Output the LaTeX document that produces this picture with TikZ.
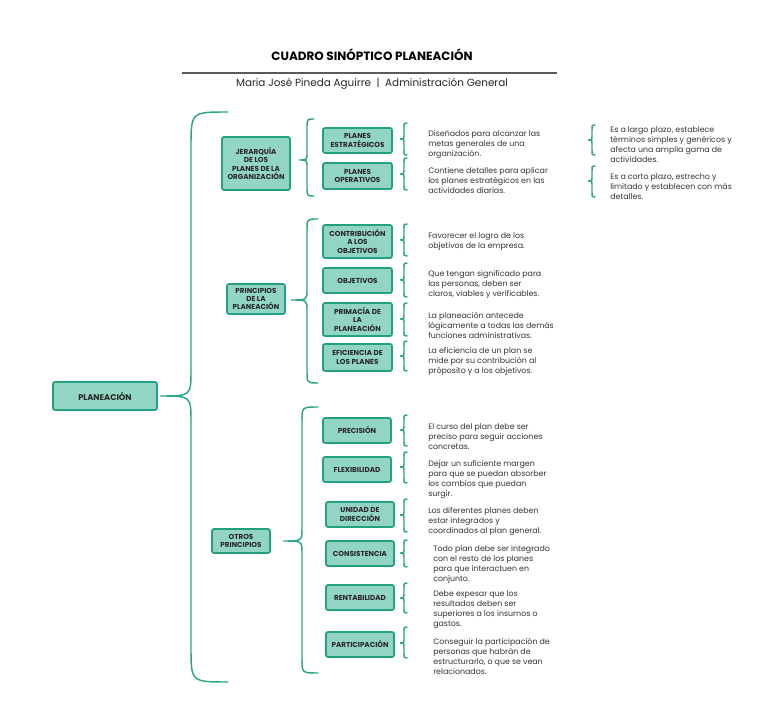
\documentclass[tikz,border=0pt]{standalone}
\usepackage{fontspec}
\setmainfont{Poppins}
\definecolor{boxfill}{HTML}{93D5C3}
\definecolor{boxline}{HTML}{23A080}
\definecolor{bracecol}{HTML}{2BA587}
\tikzset{
  box/.style={draw=boxline, fill=boxfill, line width=1.3pt, rounded corners=1.5pt,
    font=\fontsize{5.4}{6.3}\selectfont\bfseries, align=center, inner sep=0pt, text=black!85},
  desc/.style={anchor=west, align=left, inner sep=0pt, font=\fontsize{5.9}{7.5}\selectfont, text=black!80},
  br/.style={draw=bracecol, line width=1.1pt, line cap=round},
}
\newcommand\mkbox[6]{\node[box, minimum width={(#4-#2)*0.75pt}, minimum height={(#5-#3)*0.75pt}] (#1) at ({(#2+#4)/2},{(#3+#5)/2}) {#6};}
\newcommand\mybrace[8]{\draw[br] (#1,#4) .. controls (#2,#4) .. (#2,#4+#7) -- (#2,#5-#8) .. controls (#2,#5) .. (#3,#5) .. controls (#2,#5) .. (#2,#5+#8) -- (#2,#6-#7) .. controls (#2,#6) .. (#1,#6);}
\newcommand\sbr[3]{\mybrace{407}{404}{400}{#1}{#2}{#3}{5}{4}}
\begin{document}
\begin{tikzpicture}[x=0.75pt,y=-0.75pt]
\useasboundingbox (0,0) rectangle (768,712);
% header
\node[font=\fontsize{9}{10}\selectfont\bfseries] (title) at (372,55) {CUADRO SINÓPTICO PLANEACIÓN};
\draw[black!65, line width=0.8pt] (182,73) -- (557,73);
\node[font=\fontsize{7.8}{9}\selectfont, text=black!85] (sub) at (372,84) {Maria José Pineda Aguirre \ | \ Administración General};
% boxes
\node[box, font=\fontsize{6.2}{7}\selectfont\bfseries, minimum width={104*0.75pt}, minimum height={28*0.75pt}] (plan) at (105,396) {PLANEACIÓN};
\mkbox{jer}{222}{137}{290}{190}{JERARQUÍA\\DE LOS\\PLANES DE LA\\ORGANIZACIÓN}
\mkbox{pe}{323}{128}{392}{153}{PLANES\\ESTRATÉGICOS}
\mkbox{po}{323}{163}{392}{189}{PLANES\\OPERATIVOS}
\mkbox{pri}{227}{284}{285}{314}{PRINCIPIOS\\DE LA\\PLANEACIÓN}
\mkbox{con}{323}{225}{392}{258}{CONTRIBUCIÓN\\A LOS\\OBJETIVOS}
\mkbox{obj}{323}{268}{392}{293}{OBJETIVOS}
\mkbox{prim}{323}{303}{392}{336}{PRIMACÍA DE\\LA\\PLANEACIÓN}
\mkbox{efi}{323}{344}{392}{371}{EFICIENCIA DE\\LOS PLANES}
\mkbox{otr}{212}{529}{270}{553}{OTROS\\PRINCIPIOS}
\mkbox{prec}{323}{418}{391}{443}{PRECISIÓN}
\mkbox{flex}{323}{457}{391}{482}{FLEXIBILIDAD}
\mkbox{uni}{326}{502}{394}{527}{UNIDAD DE\\DIRECCIÓN}
\mkbox{cons}{326}{541}{394}{566}{CONSISTENCIA}
\mkbox{rent}{326}{585}{394}{610}{RENTABILIDAD}
\mkbox{part}{326}{632}{394}{657}{PARTICIPACIÓN}
% braces
\mybrace{228}{191}{160}{112}{396}{682}{35}{26}
\mybrace{314}{307}{299}{119}{160}{196}{9}{7}
\mybrace{318}{307}{291}{219}{300}{383}{12}{10}
\mybrace{318}{302}{283}{407}{541}{673}{14}{12}
\sbr{123}{139}{155}
\sbr{158}{174}{190}
\mybrace{595}{592}{588}{125}{140}{155}{5}{4}
\mybrace{595}{592}{588}{166}{181}{197}{5}{4}
\sbr{224}{240}{256}
\sbr{263}{280}{297}
\sbr{303}{319}{336}
\sbr{341}{356}{371}
\sbr{415}{430}{446}
\sbr{452}{467}{483}
\sbr{499}{515}{532}
\sbr{540}{553}{567}
\sbr{583}{598}{613}
\sbr{627}{643}{658}
% descriptions
\node[desc] (t1) at (428,145) {Diseñados para alcanzar las\\metas generales de una\\organización.};
\node[desc] (t2) at (428,181) {Contiene detalles para aplicar\\los planes estratégicos en las\\actividades diarias.};
\node[desc] (t3) at (610,145) {Es a largo plazo, establece\\términos simples y genéricos y\\afecta una amplia gama de\\actividades.};
\node[desc] (t4) at (610,187) {Es a corto plazo, estrecho y\\limitado y establecen con más\\detalles.};
\node[desc] (t5) at (428,242) {Favorecer el logro de los\\objetivos de la empresa.};
\node[desc] (t6) at (428,285) {Que tengan significado para\\las personas, deben ser\\claros, viables y verificables.};
\node[desc] (t7) at (428,325) {La planeación antecede\\lógicamente a todas las demás\\funciones administrativas.};
\node[desc] (t8) at (428,362) {La eficiencia de un plan se\\mide por su contribución al\\próposito y a los objetivos.};
\node[desc] (t9) at (428,437) {El curso del plan debe ser\\preciso para seguir acciones\\concretas.};
\node[desc] (t10) at (428,480) {Dejar un suficiente margen\\para que se puedan absorber\\los cambios que puedan\\surgir.};
\node[desc] (t11) at (428,522) {Los diferentes planes deben\\estar integrados y\\coordinados al plan general.};
\node[desc] (t12) at (433,565) {Todo plan debe ser integrado\\con el resto de los planes\\para que interactuen en\\conjunto.};
\node[desc] (t13) at (433,610) {Debe expesar que los\\resultados deben ser\\superiores a los insumos o\\gastos.};
\node[desc] (t14) at (433,656) {Conseguir la participación de\\personas que habrán de\\estructurarlo, o que se vean\\relacionados.};
\end{tikzpicture}
\end{document}
